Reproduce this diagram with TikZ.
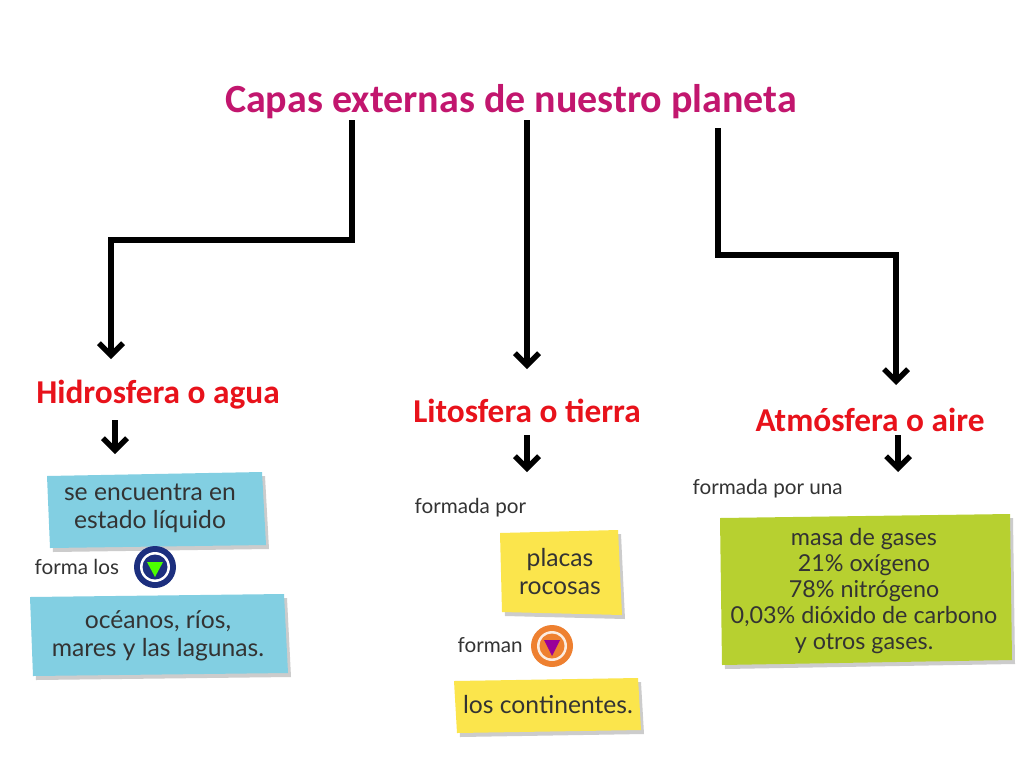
\documentclass[tikz,border=0pt]{standalone}
\usepackage{fontspec}
\setmainfont{Carlito}
\newfontfamily\boxfont{Lato}
\usetikzlibrary{arrows.meta}
\definecolor{titlec}{HTML}{C2166E}
\definecolor{redc}{HTML}{E8121B}
\definecolor{bluec}{HTML}{82CFE2}
\definecolor{yelc}{HTML}{FBE54C}
\definecolor{grnc}{HTML}{B7D030}
\definecolor{navyc}{HTML}{1C2F7E}
\definecolor{orc}{HTML}{EE8030}
\definecolor{txtc}{HTML}{333333}
\begin{document}
\begin{tikzpicture}[x=0.75pt,y=-0.75pt,
  conn/.style={line width=4pt,-{Straight Barb[length=9pt,width=18pt,line width=4pt]}},
  lab/.style={text=redc,font=\bfseries\fontsize{25}{28}\selectfont},
  card/.style={text=txtc,font=\boxfont\fontsize{18.5}{21}\selectfont,align=center},
  small/.style={text=txtc,font=\boxfont\fontsize{15.5}{18}\selectfont}]
\useasboundingbox[fill=white] (0,0) rectangle (1024,768);
\node[text=titlec,font=\bfseries\fontsize{30}{32}\selectfont] (title) at (511,102) {Capas externas de nuestro planeta};
\coordinate (a1) at (352,120); \coordinate (a2) at (352,240); \coordinate (a3) at (111,240); \coordinate (a4) at (111,359);
\coordinate (b1) at (527,120); \coordinate (b2) at (527,369);
\coordinate (c1) at (718,128); \coordinate (c2) at (718,255); \coordinate (c3) at (896,255); \coordinate (c4) at (896,385);
\draw[conn] (a1) -- (a2) -- (a3) -- (a4);
\draw[conn] (b1) -- (b2);
\draw[conn] (c1) -- (c2) -- (c3) -- (c4);
\node[lab] (h) at (158,395) {Hidrosfera o agua};
\node[lab] (l) at (527,411) {Litosfera o tierra};
\node[lab] (at) at (870,420) {Atmósfera o aire};
\coordinate (h1) at (115,420); \coordinate (h2) at (115,454);
\coordinate (l1) at (527,435); \coordinate (l2) at (527,472);
\coordinate (t1) at (898,435); \coordinate (t2) at (898,472);
\draw[conn] (h1) -- (h2);
\draw[conn] (l1) -- (l2);
\draw[conn] (t1) -- (t2);
% blue
\fill[black!20] (50,480) -- (265,476) -- (269,549) -- (53,552) -- cycle;
\fill[bluec] (47,476) -- (262,472) -- (266,545) -- (50,548) -- cycle;
\node[card] (b1t) at (150,508) {se encuentra en\\estado líquido};
\node[small,anchor=west] (fl) at (30,567) {forma los};
\fill[navyc] (155,567) circle (21); \fill[white] (155,567) circle (15); \fill[navyc] (155,567) circle (12.5);
\fill[green!60!lime] (147,562) -- (163,562) -- (155,577) -- cycle;
\fill[black!20] (33,601) -- (287,598) -- (291,677) -- (36,680) -- cycle;
\fill[bluec] (30,597) -- (284,594) -- (288,673) -- (33,676) -- cycle;
\node[card] (b2t) at (158,636) {océanos, ríos,\\mares y las lagunas.};
% yellow
\node[small,anchor=west] (fp) at (410,508) {formada por};
\fill[black!20] (503,537) -- (621,534) -- (625,619) -- (505,616) -- cycle;
\fill[yelc] (500,533) -- (618,530) -- (622,615) -- (502,612) -- cycle;
\node[card] (y1t) at (560,572) {placas\\rocosas};
\node[small,anchor=west] (fm) at (453,645) {forman};
\fill[orc] (552,646) circle (21); \fill[white!85!orc] (552,646) circle (15); \fill[orc] (552,646) circle (12.5);
\fill[violet!80!magenta] (544,640) -- (560,640) -- (552,656) -- cycle;
\fill[black!20] (457,685) -- (641,682) -- (644,734) -- (460,737) -- cycle;
\fill[yelc] (454,681) -- (638,678) -- (641,730) -- (457,733) -- cycle;
\node[card] (y2t) at (548,705) {los continentes.};
% green
\node[small,anchor=west] (fu) at (688,489) {formada por una};
\fill[black!20] (723,522) -- (1013,518) -- (1015,664) -- (725,669) -- cycle;
\fill[grnc] (720,518) -- (1010,514) -- (1012,660) -- (722,665) -- cycle;
\node[card,font=\boxfont\fontsize{17.5}{19.5}\selectfont] (gt) at (864,591) {masa de gases\\21\% oxígeno\\78\% nitrógeno\\0,03\% dióxido de carbono\\y otros gases.};
\end{tikzpicture}
\end{document}
